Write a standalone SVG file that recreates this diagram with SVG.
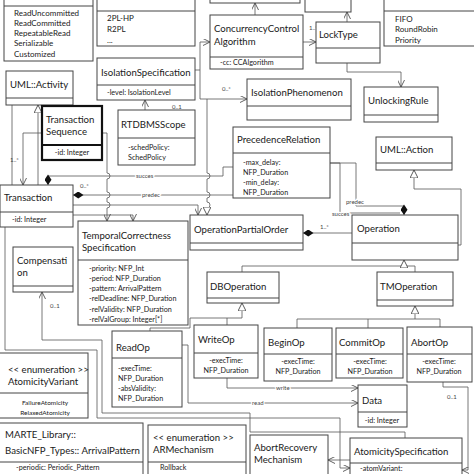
<svg xmlns="http://www.w3.org/2000/svg" width="474" height="474" viewBox="0 0 474 474">
<defs>
<style>
.bx{fill:#fff;stroke:#444;stroke-width:1}
.bb{fill:#fff;stroke:#111;stroke-width:2.2}
.sp{stroke:#444;stroke-width:1}
.n{font-family:Lato,"Open Sans",sans-serif;font-size:9.6px;fill:#1a1a1a}
.at{font-family:Lato,"Open Sans",sans-serif;font-size:7.2px;fill:#1a1a1a}
.en{font-family:Lato,"Open Sans",sans-serif;font-size:8px;fill:#1a1a1a}
.es{font-family:Lato,"Open Sans",sans-serif;font-size:6.5px;fill:#1a1a1a}
.lb{font-family:Lato,"Open Sans",sans-serif;font-size:6px;fill:#444}
.lw{font-family:Lato,"Open Sans",sans-serif;font-size:6px;fill:#444;stroke:#fff;stroke-width:2.5;paint-order:stroke}
.c{fill:none;stroke:#555;stroke-width:0.8}
.ca{fill:none;stroke:#555;stroke-width:0.8;marker-end:url(#a)}
.cg{fill:none;stroke:#555;stroke-width:0.8;marker-end:url(#g)}
.cd{fill:none;stroke:#555;stroke-width:0.8;marker-end:url(#d)}
</style>
<marker id="a" viewBox="0 0 10 10" refX="10" refY="5" markerWidth="7" markerHeight="7" markerUnits="userSpaceOnUse" orient="auto"><path d="M0,0 L10,5 L0,10" fill="none" stroke="#444" stroke-width="1.2"/></marker>
<marker id="g" viewBox="0 0 10 10" refX="10" refY="5" markerWidth="8" markerHeight="8" markerUnits="userSpaceOnUse" orient="auto"><path d="M0,0 L10,5 L0,10 Z" fill="#fff" stroke="#444" stroke-width="1.1"/></marker>
<marker id="d" viewBox="0 0 12 8" refX="12" refY="4" markerWidth="11" markerHeight="7" markerUnits="userSpaceOnUse" orient="auto"><path d="M0,4 L6,0 L12,4 L6,8 Z" fill="#111"/></marker>
</defs>

<g id="connectors">
<path class="ca" d="M255,15 V3"/>
<path class="ca" d="M347,22 V12"/>
<path class="ca" d="M303,42 H316"/>
<path class="ca" d="M195,70 H200 V42 H210"/>
<path class="ca" d="M200,70 V99 H247"/>
<path class="ca" d="M347,63 V72 H401 V87"/>
<path class="ca" d="M145,110 V100"/>
<path class="cg" d="M38,185 V105"/>
<path class="c" d="M12,105 V185"/>
<path class="ca" d="M42,133 H23 V185"/>
<path class="cd" d="M233,167 H223 V176 H48 V185"/>
<path class="cd" d="M233,195 H73"/>
<path class="ca" d="M73,205 H198 V215"/>
<path class="ca" d="M73,215 H133 V221"/>
<path class="ca" d="M102,133 H107 V173 a3,3 0 0 1 0,6 V192 a3,3 0 0 1 0,6 V202 a3,3 0 0 1 0,6 V221"/>
<path class="cg" d="M207,99 V173 a3,3 0 0 1 0,6 V192 a3,3 0 0 1 0,6 V202 a3,3 0 0 1 0,6 V215"/>
<path class="cd" d="M352,233 H303"/>
<path class="cd" d="M330,163 H356 V206 H404 V215"/>
<path class="c" d="M330,163 H340 V213 H400"/>
<path class="cg" d="M458,245 H461 V189 H414 V170"/>
<path class="c" d="M242,272 V266 H415 V272"/>
<path class="cg" d="M404,266 V260"/>
<path class="cg" d="M242,318 V303"/>
<path class="c" d="M227,325 V318 H242"/>
<path class="c" d="M150,331 V328 H190 V318 H227"/>
<path class="cg" d="M415,319 V306"/>
<path class="c" d="M297,328 V319 H440 V327"/>
<path class="c" d="M368,319 V328"/>
<path class="ca" d="M227,378 V388 H358"/>
<path class="ca" d="M182,345 H188 V403 H358"/>
<path class="ca" d="M443,382 V387 H468 V470 H462"/>
<path class="ca" d="M350,460 H328"/>
<path class="ca" d="M5,227 V350 H97 V418 H340 V468 H350"/>
<path class="ca" d="M405,438 V432 H250 V413 H102 V340 H42 V292"/>
<text class="lb" x="309" y="30">1..*</text>
<text class="lb" x="222" y="91">0..*</text>
<text class="lb" x="172" y="109">0..1</text>
<text class="lb" x="10" y="162">1..*</text>
<text class="lw" x="136" y="178">succes</text>
<text class="lw" x="142" y="197">predec</text>
<text class="lb" x="80" y="188">0..*</text>
<text class="lw" x="346" y="204">predec</text>
<text class="lw" x="332" y="216">succes</text>
<text class="lb" x="320" y="229">1..*</text>
<text class="lw" x="276" y="390">write</text>
<text class="lw" x="252" y="405">read</text>
<text class="lb" x="447" y="399">0..1</text>
<text class="lb" x="50" y="308">0..1</text>
<text class="lb" x="92" y="259">0..1</text>
</g>

<g id="isolationLevel"><rect class="bx" x="4" y="-20" width="89" height="81"/><line class="sp" x1="4" y1="6" x2="93" y2="6"/>
<text class="en" x="14" y="16">ReadUncommitted</text><text class="en" x="14" y="26">ReadCommitted</text><text class="en" x="14" y="36">RepeatableRead</text><text class="en" x="14" y="46">Serializable</text><text class="en" x="14" y="57">Customized</text></g>

<g id="ccProtocol"><rect class="bx" x="97" y="-20" width="98" height="66"/><line class="sp" x1="97" y1="11" x2="195" y2="11"/>
<text class="en" x="107" y="21">2PL-HP</text><text class="en" x="107" y="32">R2PL</text><text class="en" x="107" y="43">...</text></g>

<g id="ccTop"><rect class="bx" x="210" y="-20" width="90" height="23"/></g>
<g id="lockTop"><rect class="bx" x="305" y="-20" width="46" height="32"/></g>

<g id="schedPolicy"><rect class="bx" x="384" y="-20" width="100" height="66"/><line class="sp" x1="384" y1="11" x2="474" y2="11"/>
<text class="en" x="395" y="22">FIFO</text><text class="en" x="395" y="32">RoundRobin</text><text class="en" x="395" y="43">Priority</text></g>

<g id="cca"><rect class="bx" x="210" y="15" width="93" height="54"/><line class="sp" x1="210" y1="57" x2="303" y2="57"/>
<text class="n" x="214" y="32">ConcurrencyControl</text><text class="n" x="214" y="45">Algorithm</text><text class="at" x="220" y="65">-cc: CCAlgorithm</text></g>

<g id="lockType"><rect class="bx" x="316" y="22" width="64" height="41"/><line class="sp" x1="316" y1="48" x2="380" y2="48"/>
<text class="n" x="319" y="38">LockType</text></g>

<g id="umlActivity"><rect class="bx" x="6" y="71" width="67" height="34"/><line class="sp" x1="6" y1="98" x2="73" y2="98"/>
<text class="n" x="10" y="88">UML::Activity</text></g>

<g id="isolationSpec"><rect class="bx" x="97" y="58" width="98" height="42"/><line class="sp" x1="97" y1="85" x2="195" y2="85"/>
<text class="n" x="101" y="76">IsolationSpecification</text><text class="at" x="107" y="95">-level: IsolationLevel</text></g>

<g id="isolationPhenomenon"><rect class="bx" x="247" y="79" width="104" height="41"/><line class="sp" x1="247" y1="106" x2="351" y2="106"/>
<text class="n" x="251" y="96">IsolationPhenomenon</text></g>

<g id="unlockingRule"><rect class="bx" x="364" y="87" width="74" height="35"/><line class="sp" x1="364" y1="115" x2="438" y2="115"/>
<text class="n" x="368" y="104">UnlockingRule</text></g>

<g id="transactionSequence"><rect class="bb" x="42" y="106" width="60" height="54"/><line x1="42" y1="145" x2="102" y2="145" stroke="#111" stroke-width="2"/>
<text class="n" x="46" y="123">Transaction</text><text class="n" x="46" y="135">Sequence</text><text class="at" x="72" y="155" text-anchor="middle">-id: Integer</text></g>

<g id="rtdbmsScope"><rect class="bx" x="118" y="110" width="77" height="55"/><line class="sp" x1="118" y1="138" x2="195" y2="138"/>
<text class="n" x="121" y="128">RTDBMSScope</text><text class="at" x="128" y="150">-schedPolicy:</text><text class="at" x="128" y="160">SchedPolicy</text></g>

<g id="precedenceRelation"><rect class="bx" x="233" y="127" width="97" height="71"/><line class="sp" x1="233" y1="153" x2="330" y2="153"/>
<text class="n" x="237" y="143">PrecedenceRelation</text><text class="at" x="243" y="165">-max_delay:</text><text class="at" x="243" y="175">NFP_Duration</text><text class="at" x="243" y="185">-min_delay:</text><text class="at" x="243" y="195">NFP_Duration</text></g>

<g id="umlAction"><rect class="bx" x="376" y="137" width="76" height="33"/><line class="sp" x1="376" y1="163" x2="452" y2="163"/>
<text class="n" x="380" y="153">UML::Action</text></g>

<g id="transaction"><rect class="bx" x="0" y="185" width="73" height="42"/><line class="sp" x1="0" y1="212" x2="73" y2="212"/>
<text class="n" x="4" y="201">Transaction</text><text class="at" x="12" y="222">-id: Integer</text></g>

<g id="temporalCorrectness"><rect class="bx" x="78" y="221" width="110" height="104"/><line class="sp" x1="78" y1="260" x2="188" y2="260"/>
<text class="n" x="82" y="239">TemporalCorrectness</text><text class="n" x="82" y="251">Specification</text>
<text class="at" x="89" y="271">-priority: NFP_Int</text><text class="at" x="89" y="281">-period: NFP_Duration</text><text class="at" x="89" y="291">-pattern: ArrivalPattern</text><text class="at" x="89" y="301">-relDeadline: NFP_Duration</text><text class="at" x="89" y="312">-relValidity: NFP_Duration</text><text class="at" x="89" y="322">-relValGroup: Integer[*]</text></g>

<g id="compensation"><rect class="bx" x="13" y="247" width="60" height="45"/><line class="sp" x1="13" y1="286" x2="73" y2="286"/>
<text class="n" x="17" y="264">Compensati</text><text class="n" x="17" y="276">on</text></g>

<g id="operationPartialOrder"><rect class="bx" x="190" y="215" width="113" height="35"/><line class="sp" x1="190" y1="243" x2="303" y2="243"/>
<text class="n" x="194" y="233">OperationPartialOrder</text></g>

<g id="operation"><rect class="bx" x="352" y="215" width="106" height="45"/><line class="sp" x1="352" y1="243" x2="458" y2="243"/>
<text class="n" x="357" y="232">Operation</text></g>

<g id="dbOperation"><rect class="bx" x="207" y="272" width="72" height="31"/><line class="sp" x1="207" y1="298" x2="279" y2="298"/>
<text class="n" x="210" y="290">DBOperation</text></g>

<g id="tmOperation"><rect class="bx" x="377" y="272" width="76" height="34"/><line class="sp" x1="377" y1="300" x2="453" y2="300"/>
<text class="n" x="380" y="290">TMOperation</text></g>

<g id="writeOp"><rect class="bx" x="194" y="325" width="64" height="53"/><line class="sp" x1="194" y1="353" x2="258" y2="353"/>
<text class="n" x="198" y="343">WriteOp</text><text class="at" x="226" y="363" text-anchor="middle">-execTime:</text><text class="at" x="226" y="373" text-anchor="middle">NFP_Duration</text></g>

<g id="beginOp"><rect class="bx" x="264" y="328" width="68" height="53"/><line class="sp" x1="264" y1="354" x2="332" y2="354"/>
<text class="n" x="268" y="346">BeginOp</text><text class="at" x="298" y="364" text-anchor="middle">-execTime:</text><text class="at" x="298" y="374" text-anchor="middle">NFP_Duration</text></g>

<g id="commitOp"><rect class="bx" x="336" y="328" width="67" height="50"/><line class="sp" x1="336" y1="354" x2="403" y2="354"/>
<text class="n" x="339" y="346">CommitOp</text><text class="at" x="370" y="364" text-anchor="middle">-execTime:</text><text class="at" x="370" y="374" text-anchor="middle">NFP_Duration</text></g>

<g id="abortOp"><rect class="bx" x="407" y="327" width="65" height="55"/><line class="sp" x1="407" y1="354" x2="472" y2="354"/>
<text class="n" x="411" y="346">AbortOp</text><text class="at" x="439" y="364" text-anchor="middle">-execTime:</text><text class="at" x="439" y="374" text-anchor="middle">NFP_Duration</text></g>

<g id="readOp"><rect class="bx" x="112" y="331" width="70" height="76"/><line class="sp" x1="112" y1="358" x2="182" y2="358"/>
<text class="n" x="116" y="351">ReadOp</text><text class="at" x="118" y="371">-execTime:</text><text class="at" x="118" y="381">NFP_Duration</text><text class="at" x="118" y="391">-absValidity:</text><text class="at" x="118" y="401">NFP_Duration</text></g>

<g id="data"><rect class="bx" x="358" y="385" width="49" height="42"/><line class="sp" x1="358" y1="412" x2="407" y2="412"/>
<text class="n" x="362" y="404">Data</text><text class="at" x="382" y="423" text-anchor="middle">-id: Integer</text></g>

<g id="atomicityVariant"><rect class="bx" x="-2" y="353" width="90" height="65"/><line class="sp" x1="-2" y1="393" x2="88" y2="393"/>
<text class="n" x="8" y="373">&lt;&lt; enumeration &gt;&gt;</text><text class="n" x="8" y="385">AtomicityVariant</text>
<text class="es" x="45" y="405" text-anchor="middle">FailureAtomicity</text><text class="es" x="45" y="415" text-anchor="middle">RelaxedAtomicity</text></g>

<g id="arrivalPattern"><rect class="bx" x="-2" y="423" width="145" height="60"/><line class="sp" x1="-2" y1="462" x2="143" y2="462"/>
<text class="n" x="5" y="438">MARTE_Library::</text><text class="n" x="5" y="454" textLength="135" lengthAdjust="spacingAndGlyphs">BasicNFP_Types:: ArrivalPattern</text><text class="at" x="16" y="470">-periodic: Periodic_Pattern</text></g>

<g id="arMechanism"><rect class="bx" x="148" y="425" width="98" height="60"/><line class="sp" x1="148" y1="462" x2="246" y2="462"/>
<text class="n" x="153" y="441">&lt;&lt; enumeration &gt;&gt;</text><text class="n" x="153" y="453">ARMechanism</text><text class="at" x="160" y="470">Rollback</text></g>

<g id="abortRecovery"><rect class="bx" x="250" y="435" width="78" height="45"/>
<text class="n" x="254" y="451">AbortRecovery</text><text class="n" x="254" y="463">Mechanism</text></g>

<g id="atomicitySpec"><rect class="bx" x="350" y="438" width="112" height="45"/><line class="sp" x1="350" y1="463" x2="462" y2="463"/>
<text class="n" x="354" y="455">AtomicitySpecification</text><text class="at" x="360" y="471">-atomVariant:</text></g>
</svg>
